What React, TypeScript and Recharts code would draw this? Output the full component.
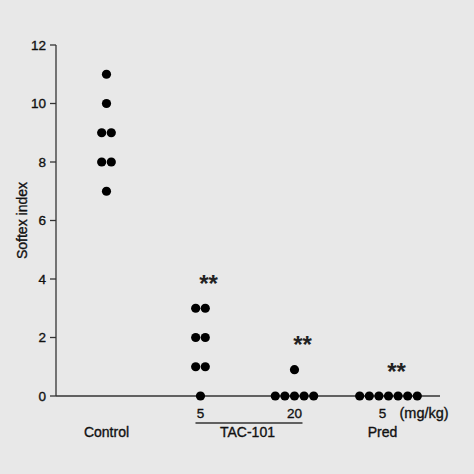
import React from 'react';
import { ScatterChart, Scatter, XAxis, YAxis } from 'recharts';

// Softex index per animal, by treatment group
const groupNames = ['Control', 'TAC-101', 'TAC-101', 'Pred'];
const doseLabels = ['', '5', '20', '5'];
const doseUnit = '(mg/kg)';
const controlValues = [11, 10, 9, 9, 8, 8, 7];
const tac5Values = [3, 3, 2, 2, 1, 1, 0];
const tac20Values = [0.9, 0, 0, 0, 0, 0];
const predValues = [0, 0, 0, 0, 0, 0, 0];
const significant = [false, true, true, true];
const yTicks = [0, 2, 4, 6, 8, 10, 12];

const groupValues = [controlValues, tac5Values, tac20Values, predValues];

// chart geometry
const W = 474;
const H = 474;
const MARGIN = { top: 45, right: 34, bottom: 30, left: 0 };
const Y_AXIS_W = 56;
const X_AXIS_H = 48;
const X_DOMAIN: [number, number] = [-0.537, 3.548];
const PX_PER_UNIT = (W - MARGIN.left - MARGIN.right - Y_AXIS_W) / (X_DOMAIN[1] - X_DOMAIN[0]);
const DOT_GAP = 9.6 / PX_PER_UNIT; // side-by-side spacing of tied values
const FONT = '"Liberation Sans", Arial, Helvetica, sans-serif';
const INK = '#111';
const AXIS = '#333';
// a hairline outline gives the regular face a medium weight
const TEXT_STYLE = { fontFamily: FONT, fill: INK, stroke: INK, strokeWidth: 0.35 };

// lay tied values out side by side around the group centre
const points: { x: number; y: number }[] = [];
groupValues.forEach((vals, gi) => {
  const counts = new Map<number, number>();
  vals.forEach((v) => counts.set(v, (counts.get(v) || 0) + 1));
  counts.forEach((n, v) => {
    for (let k = 0; k < n; k++) {
      points.push({ x: gi + (k - (n - 1) / 2) * DOT_GAP, y: v });
    }
  });
});

// ** markers one unit above each significant group's highest value
const stars = groupValues
  .map((vals, gi) => ({ x: gi, y: Math.max(...vals) + 1, show: significant[gi] }))
  .filter((s) => s.show)
  .map(({ x, y }) => ({ x, y }));

// x-axis labels: dose under each group, treatment name centred under its run of groups
const doseTicks = new Map<number, string>();
doseLabels.forEach((d, i) => doseTicks.set(i, d));
const nameTicks = new Map<number, { name: string; start: number; end: number }>();
{
  let start = 0;
  for (let i = 1; i <= groupNames.length; i++) {
    if (i === groupNames.length || groupNames[i] !== groupNames[start]) {
      const end = i - 1;
      nameTicks.set((start + end) / 2, { name: groupNames[start], start, end });
      start = i;
    }
  }
}
const xTicks = Array.from(new Set([...doseTicks.keys(), ...nameTicks.keys()])).sort((a, b) => a - b);
const lastGroup = groupNames.length - 1;

const XTick = (props: any) => {
  const { y, payload } = props;
  const v = payload.value as number;
  // the last group's labels sit slightly left of its wide row of dots
  const x = v === lastGroup ? props.x - 6 : props.x;
  const axisY = y - 8;
  const dose = doseTicks.get(v);
  const group = nameTicks.get(v);
  return (
    <g>
      {dose ? (
        <text x={x} y={axisY + 22} textAnchor="middle" fontSize={13.5} {...TEXT_STYLE}>
          {dose}
        </text>
      ) : null}
      {dose && v === lastGroup ? (
        <text x={x + 17} y={axisY + 22} textAnchor="start" fontSize={14.5} {...TEXT_STYLE}>
          {doseUnit}
        </text>
      ) : null}
      {group ? (
        <g>
          {group.end > group.start ? (
            <line
              x1={x - ((group.end - group.start) / 2) * PX_PER_UNIT - 5}
              x2={x + ((group.end - group.start) / 2) * PX_PER_UNIT + 8}
              y1={axisY + 27}
              y2={axisY + 27}
              stroke={AXIS}
              strokeWidth={1.3}
            />
          ) : null}
          <text x={x} y={axisY + 41} textAnchor="middle" fontSize={14} {...TEXT_STYLE}>
            {group.name}
          </text>
        </g>
      ) : null}
    </g>
  );
};

const Dot = (props: any) => <circle cx={props.cx} cy={props.cy} r={4.6} fill="#000" />;

const Stars = (props: any) => (
  <text
    x={props.cx + 8}
    y={props.cy + 13}
    textAnchor="middle"
    fontSize={24}
    fontWeight="bold"
    fontFamily={FONT}
    fill="#222"
  >
    **
  </text>
);

export default function App() {
  return (
    <div style={{ position: 'absolute', left: 0, top: 0, width: W, height: H, background: '#e8e8e8' }}>
      <ScatterChart width={W} height={H} margin={MARGIN}>
        <XAxis
          type="number"
          dataKey="x"
          domain={X_DOMAIN}
          ticks={xTicks}
          interval={0}
          tick={<XTick />}
          tickLine={false}
          axisLine={{ stroke: AXIS, strokeWidth: 1.3 }}
          height={X_AXIS_H}
          allowDataOverflow
        />
        <YAxis
          type="number"
          dataKey="y"
          domain={[0, 12]}
          ticks={yTicks}
          interval={0}
          width={Y_AXIS_W}
          tickSize={6}
          tickMargin={4}
          axisLine={{ stroke: AXIS, strokeWidth: 1.3 }}
          tickLine={{ stroke: AXIS, strokeWidth: 1.3 }}
          tick={{ fontSize: 13.5, ...TEXT_STYLE }}
          label={{
            value: 'Softex index',
            angle: -90,
            position: 'center',
            dx: -6,
            style: { fontSize: 14, ...TEXT_STYLE },
          }}
        />
        <Scatter data={points} shape={<Dot />} isAnimationActive={false} />
        <Scatter data={stars} shape={<Stars />} isAnimationActive={false} />
      </ScatterChart>
    </div>
  );
}
